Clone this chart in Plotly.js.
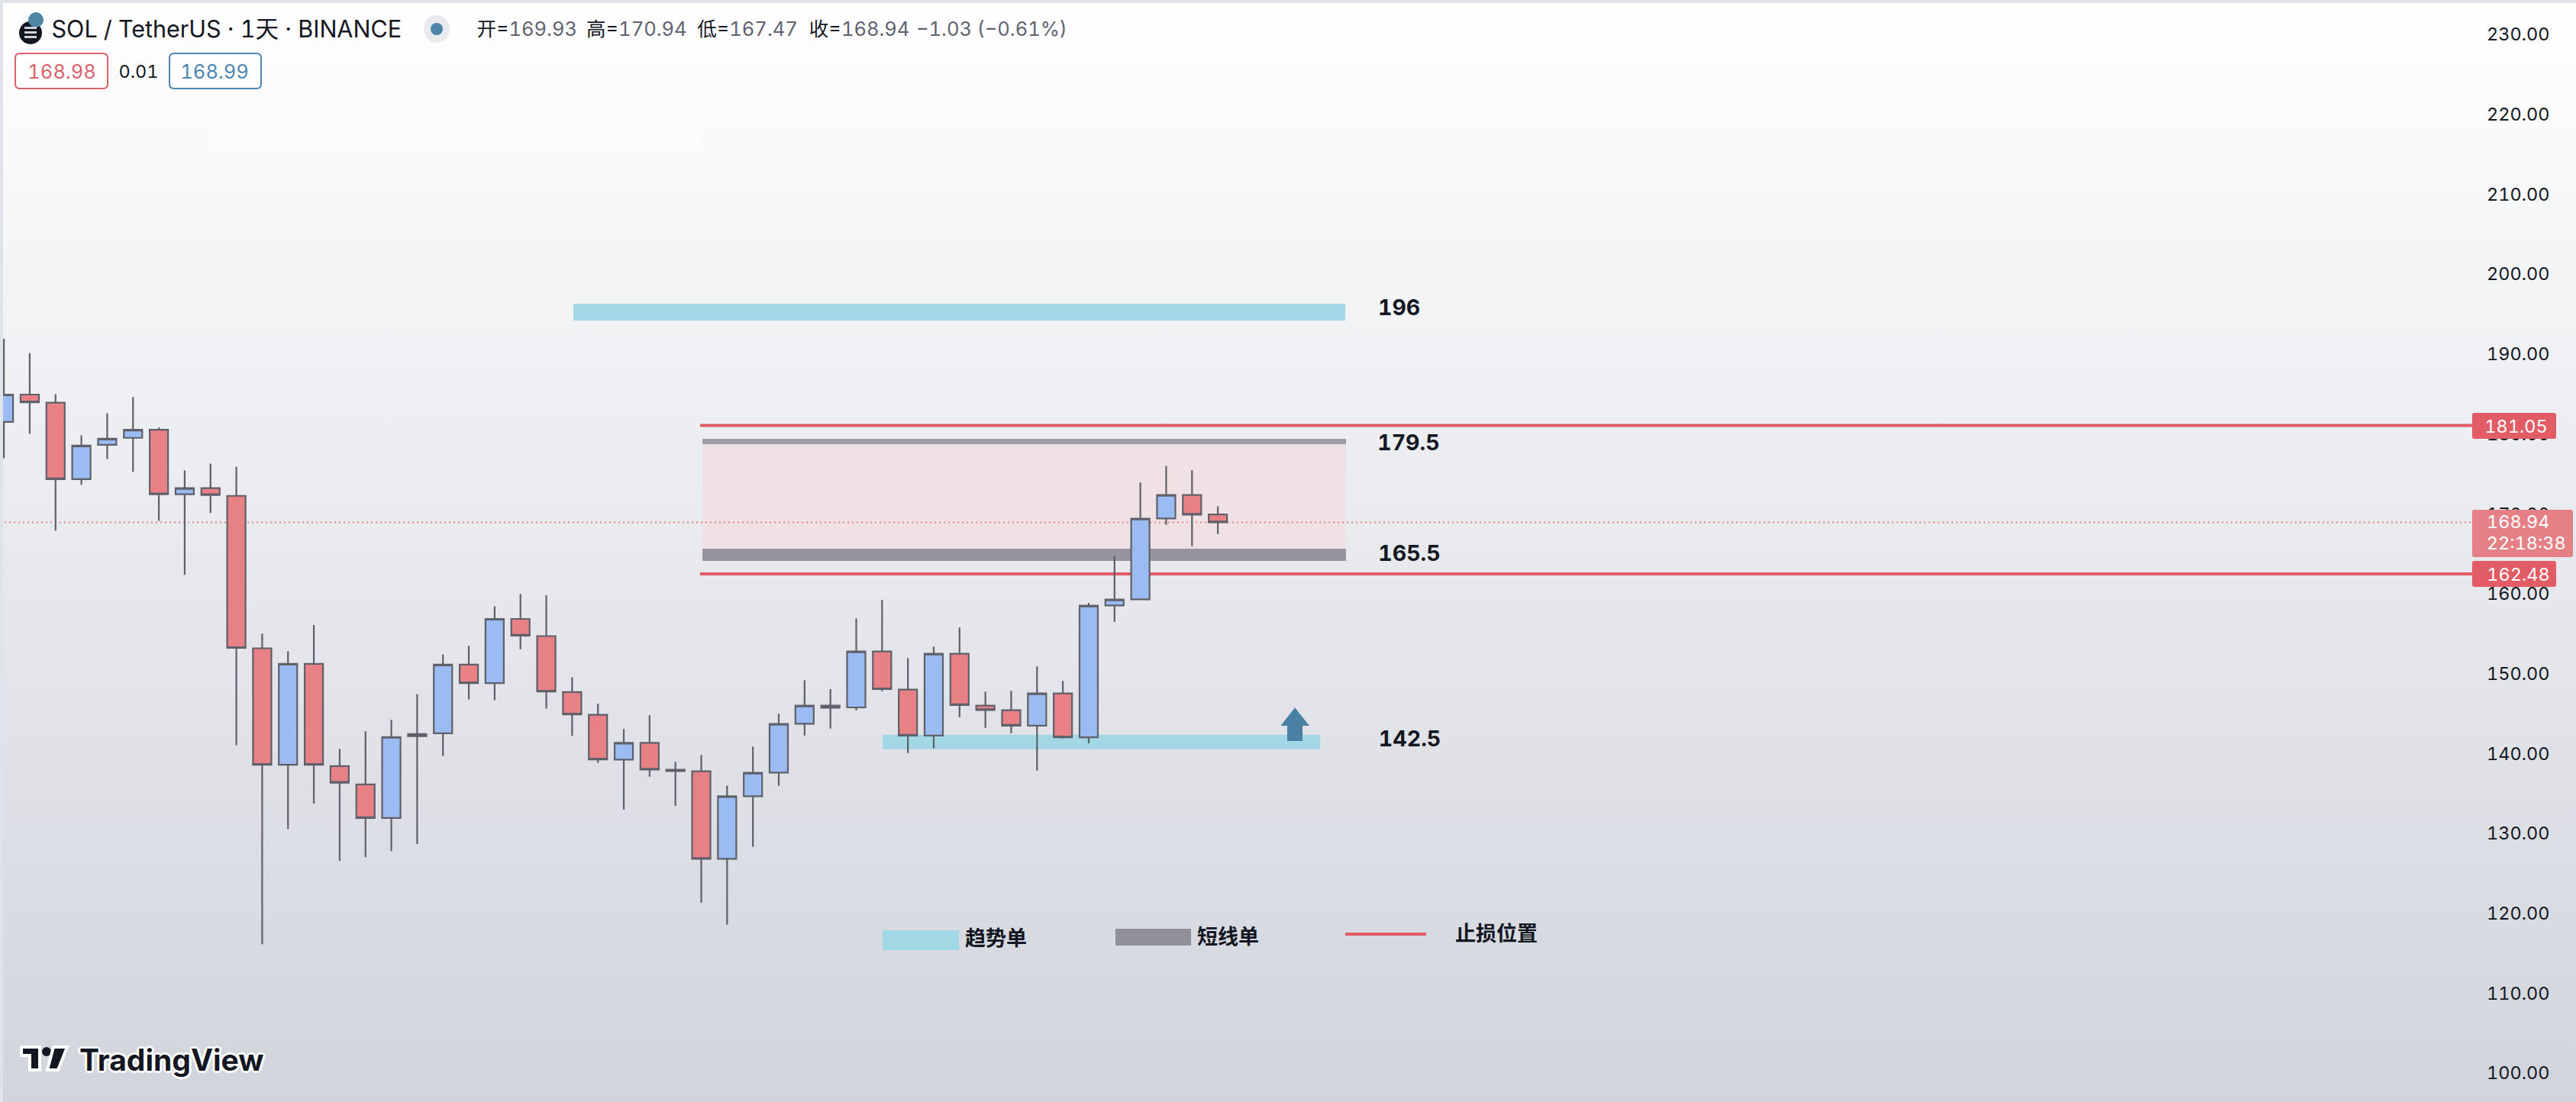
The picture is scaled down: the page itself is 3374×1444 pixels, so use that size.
<!DOCTYPE html>
<html><head><meta charset="utf-8">
<script src="https://cdn.plot.ly/plotly-3.0.1.min.js"></script>
<style>html,body{margin:0;padding:0;width:3374px;height:1444px;overflow:hidden;background:linear-gradient(180deg,#ffffff 0%,#d1d4dc 100%)}#c{width:3374px;height:1444px}#c text{font-feature-settings:"tnum" 1}</style>
</head><body><div id="c"></div>
<script>
const candleIndex=[...Array(48).keys()];
const opens=[181.5,184.93,183.91,174.34,178.64,179.51,180.53,172.45,173.22,172.25,153.17,138.59,151.22,138.43,136.13,131.94,142.17,142.53,151.12,148.82,156.85,154.7,147.7,144.85,139.24,141.34,137.97,137.78,126.83,134.66,137.62,143.73,145.74,145.77,152.77,148.0,142.24,152.49,145.99,145.42,143.48,147.52,142.04,158.54,159.3,169.42,172.35,169.93];
const highs=[191.89,190.1,184.98,179.82,182.58,184.62,180.79,175.42,176.29,175.88,155.01,152.81,156.08,140.58,142.78,144.22,147.44,152.4,153.47,158.43,159.97,159.8,149.55,146.25,143.06,144.78,138.96,139.82,135.99,140.87,144.97,149.18,148.06,156.91,159.24,151.95,153.38,155.77,147.74,147.84,150.9,149.08,158.85,164.74,173.91,176.01,175.44,170.94];
const lows=[176.95,180.02,167.9,173.63,176.85,175.26,169.13,162.37,170.1,141.04,116.13,130.56,133.73,126.57,127.03,127.8,128.67,139.71,146.77,146.67,153.06,145.63,142.2,138.83,133.0,137.11,133.48,121.35,118.58,128.35,135.96,142.27,143.13,145.42,147.81,140.07,140.64,144.56,143.22,142.55,137.87,141.88,141.28,156.5,159.3,168.63,165.95,167.47];
const closes=[184.93,183.96,174.34,178.54,179.41,180.53,172.45,173.22,172.35,153.22,138.59,151.22,138.59,136.34,131.94,142.07,142.43,151.12,148.82,156.85,154.75,147.77,144.9,139.27,141.34,138.0,137.81,126.83,134.66,137.59,143.7,145.99,145.99,152.77,148.06,142.24,152.49,146.06,145.45,143.48,147.52,142.04,158.5,159.27,169.39,172.35,169.9,168.94];
const priceTicks=[100,110,120,130,140,150,160,170,180,190,200,210,220,230];
const stopLevels=[181.05,162.48];
const lastPrice=168.94;
const trendBandTop=[196.29,194.19];
const trendBandLow=[142.36,140.54];
const shortBandTop=[179.39,178.72];
const shortBandLow=[165.64,164.11];
const zoneLevels=[178.72,165.64];
const levelLabels=["196","179.5","165.5","142.5"];
const ohlcLabels=["开=","高=","低=","收="];
const ohlcValues=["169.93","170.94","167.47","168.94"];

const W=3374,H=1444,R=3245;
const y2p=y=>160+(778-y)/10.47;
const x2i=x=>(x-5.1)/33.83;
const px=x=>x/R, py=y=>1-y/H;
const BLUE='#9abcf2',RED='#e88185',EDGE='#5f6069',STOP='#e25c66',TEAL='#a2d8e6',GREY='#96959f',DARK='#131722',MUTED='#5f6370',FONT='Inter,"Noto Sans CJK SC",sans-serif';
const band=(a,b,x0,x1,c)=>({type:'rect',layer:'below',xref:'x',yref:'y',x0:x2i(x0),x1:x2i(x1),y0:a,y1:b,fillcolor:c,line:{width:0}});
const pxRect=(x0,y0,x1,y1,c,ln,layer)=>({type:'rect',layer:layer||'above',xref:'paper',yref:'paper',x0:px(x0),x1:px(x1),y0:py(y0),y1:py(y1),fillcolor:c,line:ln||{width:0}});
const pxCircle=(cx,cy,rx,ry,c)=>({type:'circle',layer:'above',xref:'paper',yref:'paper',x0:px(cx-rx),x1:px(cx+rx),y0:py(cy-ry),y1:py(cy+ry),fillcolor:c,line:{width:0}});
const pxPath=(pts,c,ln)=>({type:'path',layer:'above',xref:'paper',yref:'paper',path:'M'+pts.map(p=>px(p[0])+','+py(p[1])).join('L')+'Z',fillcolor:c,line:ln||{width:0}});
const hLine=(y,c,w,dash,x0)=>({type:'line',layer:'below',xref:'x',yref:'y',x0:x2i(x0),x1:x2i(3240),y0:y,y1:y,line:{color:c,width:w,dash:dash||'solid'}});
const rounded=(x0,y0,x1,y1,r,fill,stroke,layer)=>{const p=`M${px(x0+r)},${py(y0)}L${px(x1-r)},${py(y0)}Q${px(x1)},${py(y0)} ${px(x1)},${py(y0+r)}L${px(x1)},${py(y1-r)}Q${px(x1)},${py(y1)} ${px(x1-r)},${py(y1)}L${px(x0+r)},${py(y1)}Q${px(x0)},${py(y1)} ${px(x0)},${py(y1-r)}L${px(x0)},${py(y0+r)}Q${px(x0)},${py(y0)} ${px(x0+r)},${py(y0)}Z`;return {type:'path',layer:layer||'above',xref:'paper',yref:'paper',path:p,fillcolor:fill,line:stroke?{color:stroke,width:2}:{width:0}}};

const shapes=[
 rounded(277,173,919,199,6,'rgba(255,255,255,0.35)',null,'below'),
 band(zoneLevels[0],zoneLevels[1],920,1763,'#f0e1e4'),
 band(trendBandTop[0],trendBandTop[1],751,1762,TEAL),
 band(shortBandTop[0],shortBandTop[1],920,1763,'#9e9ea6'),
 band(shortBandLow[0],shortBandLow[1],920,1763,GREY),
 band(trendBandLow[0],trendBandLow[1],1156,1729,TEAL),
 hLine(lastPrice,'#e88185',2,'2px,4px',0),
 hLine(stopLevels[0],STOP,4,null,917),
 hLine(stopLevels[1],STOP,4,null,917),
 pxPath([[1696,927.3],[1715,951],[1706,951],[1706,971],[1686,971],[1686,951],[1677.3,951]],'#4a80a3'),
 pxRect(1156,1219,1256,1245,TEAL),
 pxRect(1461,1217,1560,1239,'#909098'),
 pxRect(1762,1222,1868,1226,STOP),
 rounded(3238,541,3348,575,3,STOP),
 rounded(3238,735,3348,769,3,STOP),
 rounded(3238,668,3370,730,3,'#e58087'),
 pxCircle(40,43,15,15,'#131722'),
 pxCircle(47,26,10,10,'#4f86a8'),
 pxRect(32,35,48,38,'#cfd3dc'),pxRect(32,41,48,44,'#cfd3dc'),pxRect(32,47,48,50,'#cfd3dc'),
 pxCircle(572,38,17,18,'#e8eaf0'),
 pxCircle(572,38,8,8,'#4d83a6'),
 rounded(20,70,141,116,6,'rgba(255,255,255,0.9)','#d9626b'),
 rounded(222,70,342,116,6,'rgba(255,255,255,0.9)','#4d86b3'),
 pxRect(0,0,W,4,'#e0e3e9'),
 pxRect(0,0,4,H,'#e0e3e9'),
 pxPath([[28,1372],[52,1372],[52,1402],[39,1402],[39,1383],[28,1383]],'#131722',{color:'#ffffff',width:4}),
 pxCircle(61,1378,6,6,'#131722'),
 pxPath([[70,1372],[88,1372],[76,1402],[62,1402]],'#131722',{color:'#ffffff',width:4}),
];
const note=(x,y,text,size,color,extra)=>Object.assign({xref:'paper',yref:'paper',x:px(x),y:py(y),xanchor:'left',yanchor:'middle',showarrow:false,text:text,borderpad:0,font:{family:FONT,size:size,color:color}},extra||{});
const bold=(x,y,t,s)=>{const n=note(x,y,t,s,DARK);n.font.weight=700;return n};
const pill=(x,y,t)=>note(x,y,t,23.5,'#ffffff');
const m=s=>`<span style="color:${MUTED}">${s}</span>`;
const annotations=[
 note(69,38,'SOL / TetherUS · 1天 · BINANCE',30.5,DARK),
 ...ohlcLabels.map((l,i)=>note([628,772,919,1063][i],38,l+m(ohlcValues[i]),25.5,DARK)),
 note(1207,38,m('−1.03 (−0.61%)'),25.5,DARK),
 note(40,93,'168.98',25.5,'#d9626b'),
 note(158,93,'0.01',23.5,DARK),
 note(240,93,'168.99',25.5,'#4d86b3'),
 ...levelLabels.map((t,i)=>bold(1807,[402,579,724,967][i],t,28.5)),
 bold(1263,1229,'趋势单',27),bold(1567,1227,'短线单',27),bold(1905,1223,'止损位置',27),
 pill(3260,558,'181.05'),pill(3260,752,'162.48'),pill(3260,684,'168.94'),pill(3260,712,'22:18:38'),
];
const logo=note(103,1388,'TradingView',39,DARK);logo.font.weight=700;logo.font.shadow='2px 2px 0 #fff,-2px 2px 0 #fff,2px -2px 0 #fff,-2px -2px 0 #fff,0 3px 0 #fff,0 -3px 0 #fff,3px 0 0 #fff,-3px 0 0 #fff';
annotations.push(logo);

Plotly.newPlot('c',[{type:'candlestick',x:candleIndex,open:opens,high:highs,low:lows,close:closes,
 increasing:{line:{color:EDGE,width:2.2},fillcolor:BLUE},decreasing:{line:{color:EDGE,width:2.2},fillcolor:RED},whiskerwidth:0,showlegend:false}],
{width:W,height:H,margin:{l:0,r:W-R,t:0,b:0,pad:0},paper_bgcolor:'rgba(0,0,0,0)',plot_bgcolor:'rgba(0,0,0,0)',showlegend:false,
 boxgap:0,boxgroupgap:0.29,
 xaxis:{range:[x2i(0),x2i(R)],visible:false,rangeslider:{visible:false},fixedrange:true},
 yaxis:{side:'right',range:[y2p(H),y2p(0)],tickvals:priceTicks,tickformat:'.2f',showgrid:false,zeroline:false,showline:false,ticks:'',ticklabelstandoff:11,tickfont:{family:FONT,size:23.5,color:DARK},automargin:false,fixedrange:true},
 shapes:shapes,annotations:annotations,hovermode:false},{staticPlot:true,displayModeBar:false});
</script></body></html>
